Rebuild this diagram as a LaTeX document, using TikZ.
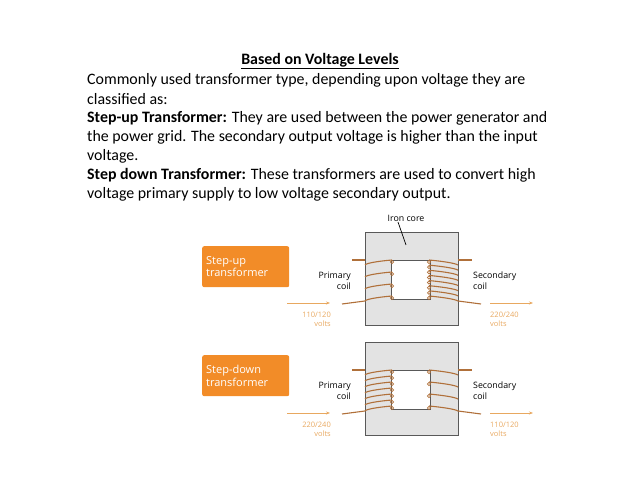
\documentclass[tikz,border=0pt]{standalone}
\usepackage{fontspec}
\setmainfont{Carlito}
\newfontfamily\lab{Open Sans}
\usetikzlibrary{arrows.meta}
\definecolor{org}{HTML}{F28C28}
\definecolor{cop}{HTML}{B0703A}
\definecolor{volt}{HTML}{E8A860}
\begin{document}
\begin{tikzpicture}[x=1pt,y=-1pt,
 txt/.style={anchor=west,inner sep=0,font=\fontsize{15.9}{18}\selectfont},
 obox/.style={fill=org,rounded corners=2pt,text=white,align=left,anchor=north west,minimum width=87,minimum height=41,inner sep=4pt,text width=79,font=\lab\fontsize{11}{12.5}\selectfont},
 core/.style={fill=gray!22,draw=gray!70!black,line width=0.7pt},
 win/.style={fill=white,draw=gray!70!black,line width=0.7pt},
 wire/.style={draw=cop,line width=1.1pt},
 varr/.style={draw=volt,line width=0.7pt,-{Stealth[length=4pt]}},
 vt/.style={text=volt,align=right,font=\lab\fontsize{7.5}{9}\selectfont,inner sep=0},
 ct/.style={align=right,font=\lab\fontsize{8.8}{11}\selectfont,inner sep=0}]
\useasboundingbox (0,0) rectangle (638,478);
\node[inner sep=0,font=\bfseries\fontsize{15.9}{18}\selectfont] (title) at (320,61) {\underline{Based on Voltage Levels}};
\node[txt] (l1) at (87,80) {Commonly used transformer type, depending upon voltage they are};
\node[txt] (l2) at (87,99) {classified as:};
\node[txt] (l3) at (87,118) {\textbf{Step-up Transformer:} They are used between the power generator and};
\node[txt] (l4) at (87,137) {the power grid. The secondary output voltage is higher than the input};
\node[txt] (l5) at (87,156) {voltage.};
\node[txt] (l6) at (87,175) {\textbf{Step down Transformer:} These transformers are used to convert high};
\node[txt] (l7) at (87,194) {voltage primary supply to low voltage secondary output.};
\node[obox] (bu) at (202,246) {Step-up\\transformer};
\node[obox] (bd) at (202,355) {Step-down\\transformer};
\node[font=\lab\fontsize{8.8}{11}\selectfont,inner sep=0] (ic) at (406,218) {Iron core};
\foreach \oy/\np/\ns/\vin/\vout in {0/4/8/110\slash120/220\slash240, 110/7/4/220\slash240/110\slash120}{
 \begin{scope}[shift={(0,\oy)}]
 \draw[core] (365,232) rectangle (458,325);
 \draw[win] (391,260) rectangle (430,299);
 \draw[wire] (352,260) -- (365,260);
 \draw[wire] (458,260) -- (472,260);
 \pgfmathsetmacro\stepP{36/(\np-1)}
 \pgfmathsetmacro\stepS{36/(\ns-1)}
 \foreach \i in {1,...,\np}{
  \pgfmathsetmacro\yy{262+(\i-1)*\stepP}
  \draw[wire] (365,\yy+3) .. controls (366,\yy+1) and (380,\yy-1) .. (392,\yy-2);
  \draw[cop,line width=0.7pt] (392,\yy) circle[radius=1.6pt];}
 \foreach \i in {1,...,\ns}{
  \pgfmathsetmacro\yy{262+(\i-1)*\stepS}
  \draw[wire] (429,\yy-2) .. controls (440,\yy-1) and (455,\yy+1) .. (458,\yy+3);
  \draw[cop,line width=0.7pt] (429,\yy) circle[radius=1.6pt];}
 \draw[wire] (342,304) -- (365,301);
 \draw[wire] (458,301) -- (481,304);
 \draw[varr] (287,303) -- (330,303);
 \draw[varr] (490,303) -- (533,303);
 \node[ct,anchor=east] at (351,281) {Primary\\coil};
 \node[ct,anchor=west,align=left] at (473,281) {Secondary\\coil};
 \node[vt,anchor=north east] at (331,312) {\vin\\volts};
 \node[vt,anchor=north west,align=left] at (490,312) {\vout\\volts};
 \end{scope}}
\draw[line width=0.7pt] (398,222) -- (406,245);
\end{tikzpicture}
\end{document}
